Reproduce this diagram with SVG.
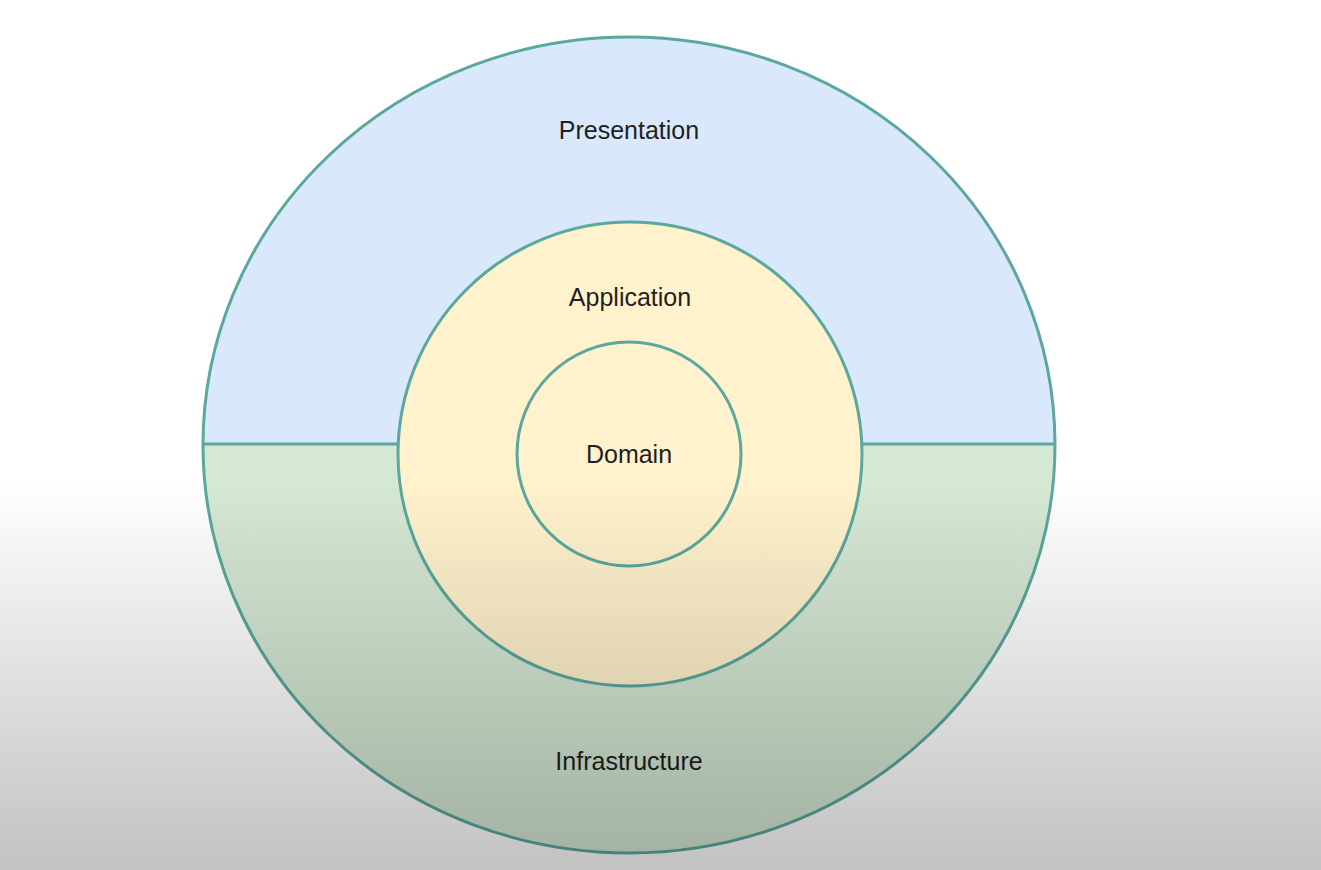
<svg xmlns="http://www.w3.org/2000/svg" width="1321" height="870" viewBox="0 0 1321 870">
<defs>
<style>
.ring{stroke:#5aa89e;stroke-width:3}
.lbl{font-family:"Liberation Sans",Arial,sans-serif;font-size:25px;fill:#1f1f1f;text-anchor:middle}
</style>
<clipPath id="top"><rect x="0" y="0" width="1321" height="444"/></clipPath>
<clipPath id="bot"><rect x="0" y="444" width="1321" height="426"/></clipPath>
<linearGradient id="shade" x1="0" y1="0" x2="0" y2="1">
<stop offset="0" stop-color="#000" stop-opacity="0"/>
<stop offset="1" stop-color="#000" stop-opacity="0.24"/>
</linearGradient>
</defs>
<rect width="1321" height="870" fill="#fff"/>
<g id="presentation">
<ellipse cx="629" cy="445" rx="426" ry="408" fill="#dae8fc" clip-path="url(#top)"/>
<text class="lbl" x="629" y="139">Presentation</text>
</g>
<g id="infrastructure">
<ellipse cx="629" cy="445" rx="426" ry="408" fill="#d5e8d4" clip-path="url(#bot)"/>
<text class="lbl" x="629" y="770">Infrastructure</text>
</g>
<g id="outline">
<ellipse class="ring" cx="629" cy="445" rx="426" ry="408" fill="none"/>
<line class="ring" x1="203" y1="444" x2="1055" y2="444"/>
</g>
<g id="application">
<circle class="ring" cx="630" cy="454" r="232" fill="#fff2cc"/>
<text class="lbl" x="630" y="306">Application</text>
</g>
<g id="domain">
<circle class="ring" cx="629" cy="454" r="112" fill="#fff2cc"/>
<text class="lbl" x="629" y="463">Domain</text>
</g>
<rect x="0" y="480" width="1321" height="390" fill="url(#shade)"/>
</svg>
